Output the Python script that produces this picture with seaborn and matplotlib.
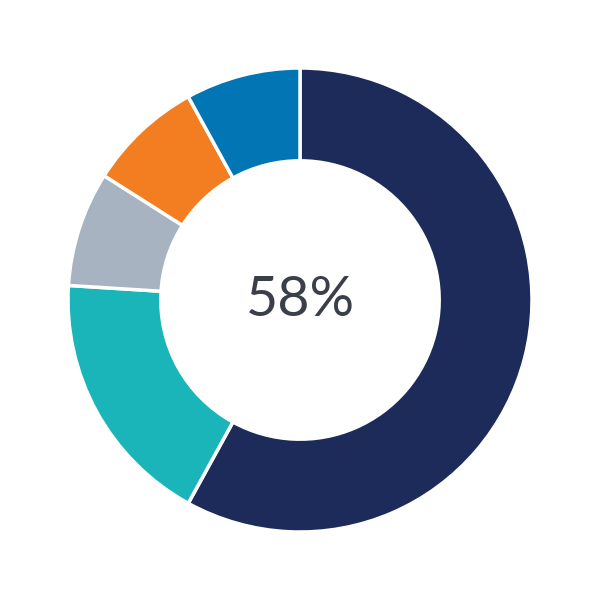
import matplotlib
matplotlib.use("Agg")
import matplotlib.pyplot as plt
import seaborn as sns

labels = ["Navy", "Teal", "Gray", "Orange", "Blue"]
values = [58, 18, 8, 8, 8]
colors = ["#1c2b5a", "#1ab5b8", "#a8b3c1", "#f37e21", "#0276b5"]
center_label = "58%"

sns.set_theme(style="white")
plt.rcParams['font.family'] = ['Lato', 'DejaVu Sans']

fig = plt.figure(figsize=(6, 6), dpi=100)
ax = fig.add_axes([0, 0, 1, 1])
ax.pie(values, colors=colors, startangle=90, counterclock=False,
       radius=1.0,
       wedgeprops=dict(width=0.40, edgecolor="white", linewidth=2.5))
lim = 300 / 232
ax.set_xlim(-lim, lim)
ax.set_ylim(-lim, lim)
ax.set_aspect("equal")
ax.axis("off")
ax.text(0, 0, center_label, ha="center", va="center", fontsize=40,
        color="#3a3f4a")
fig.savefig("out.png", dpi=100, facecolor="white")
